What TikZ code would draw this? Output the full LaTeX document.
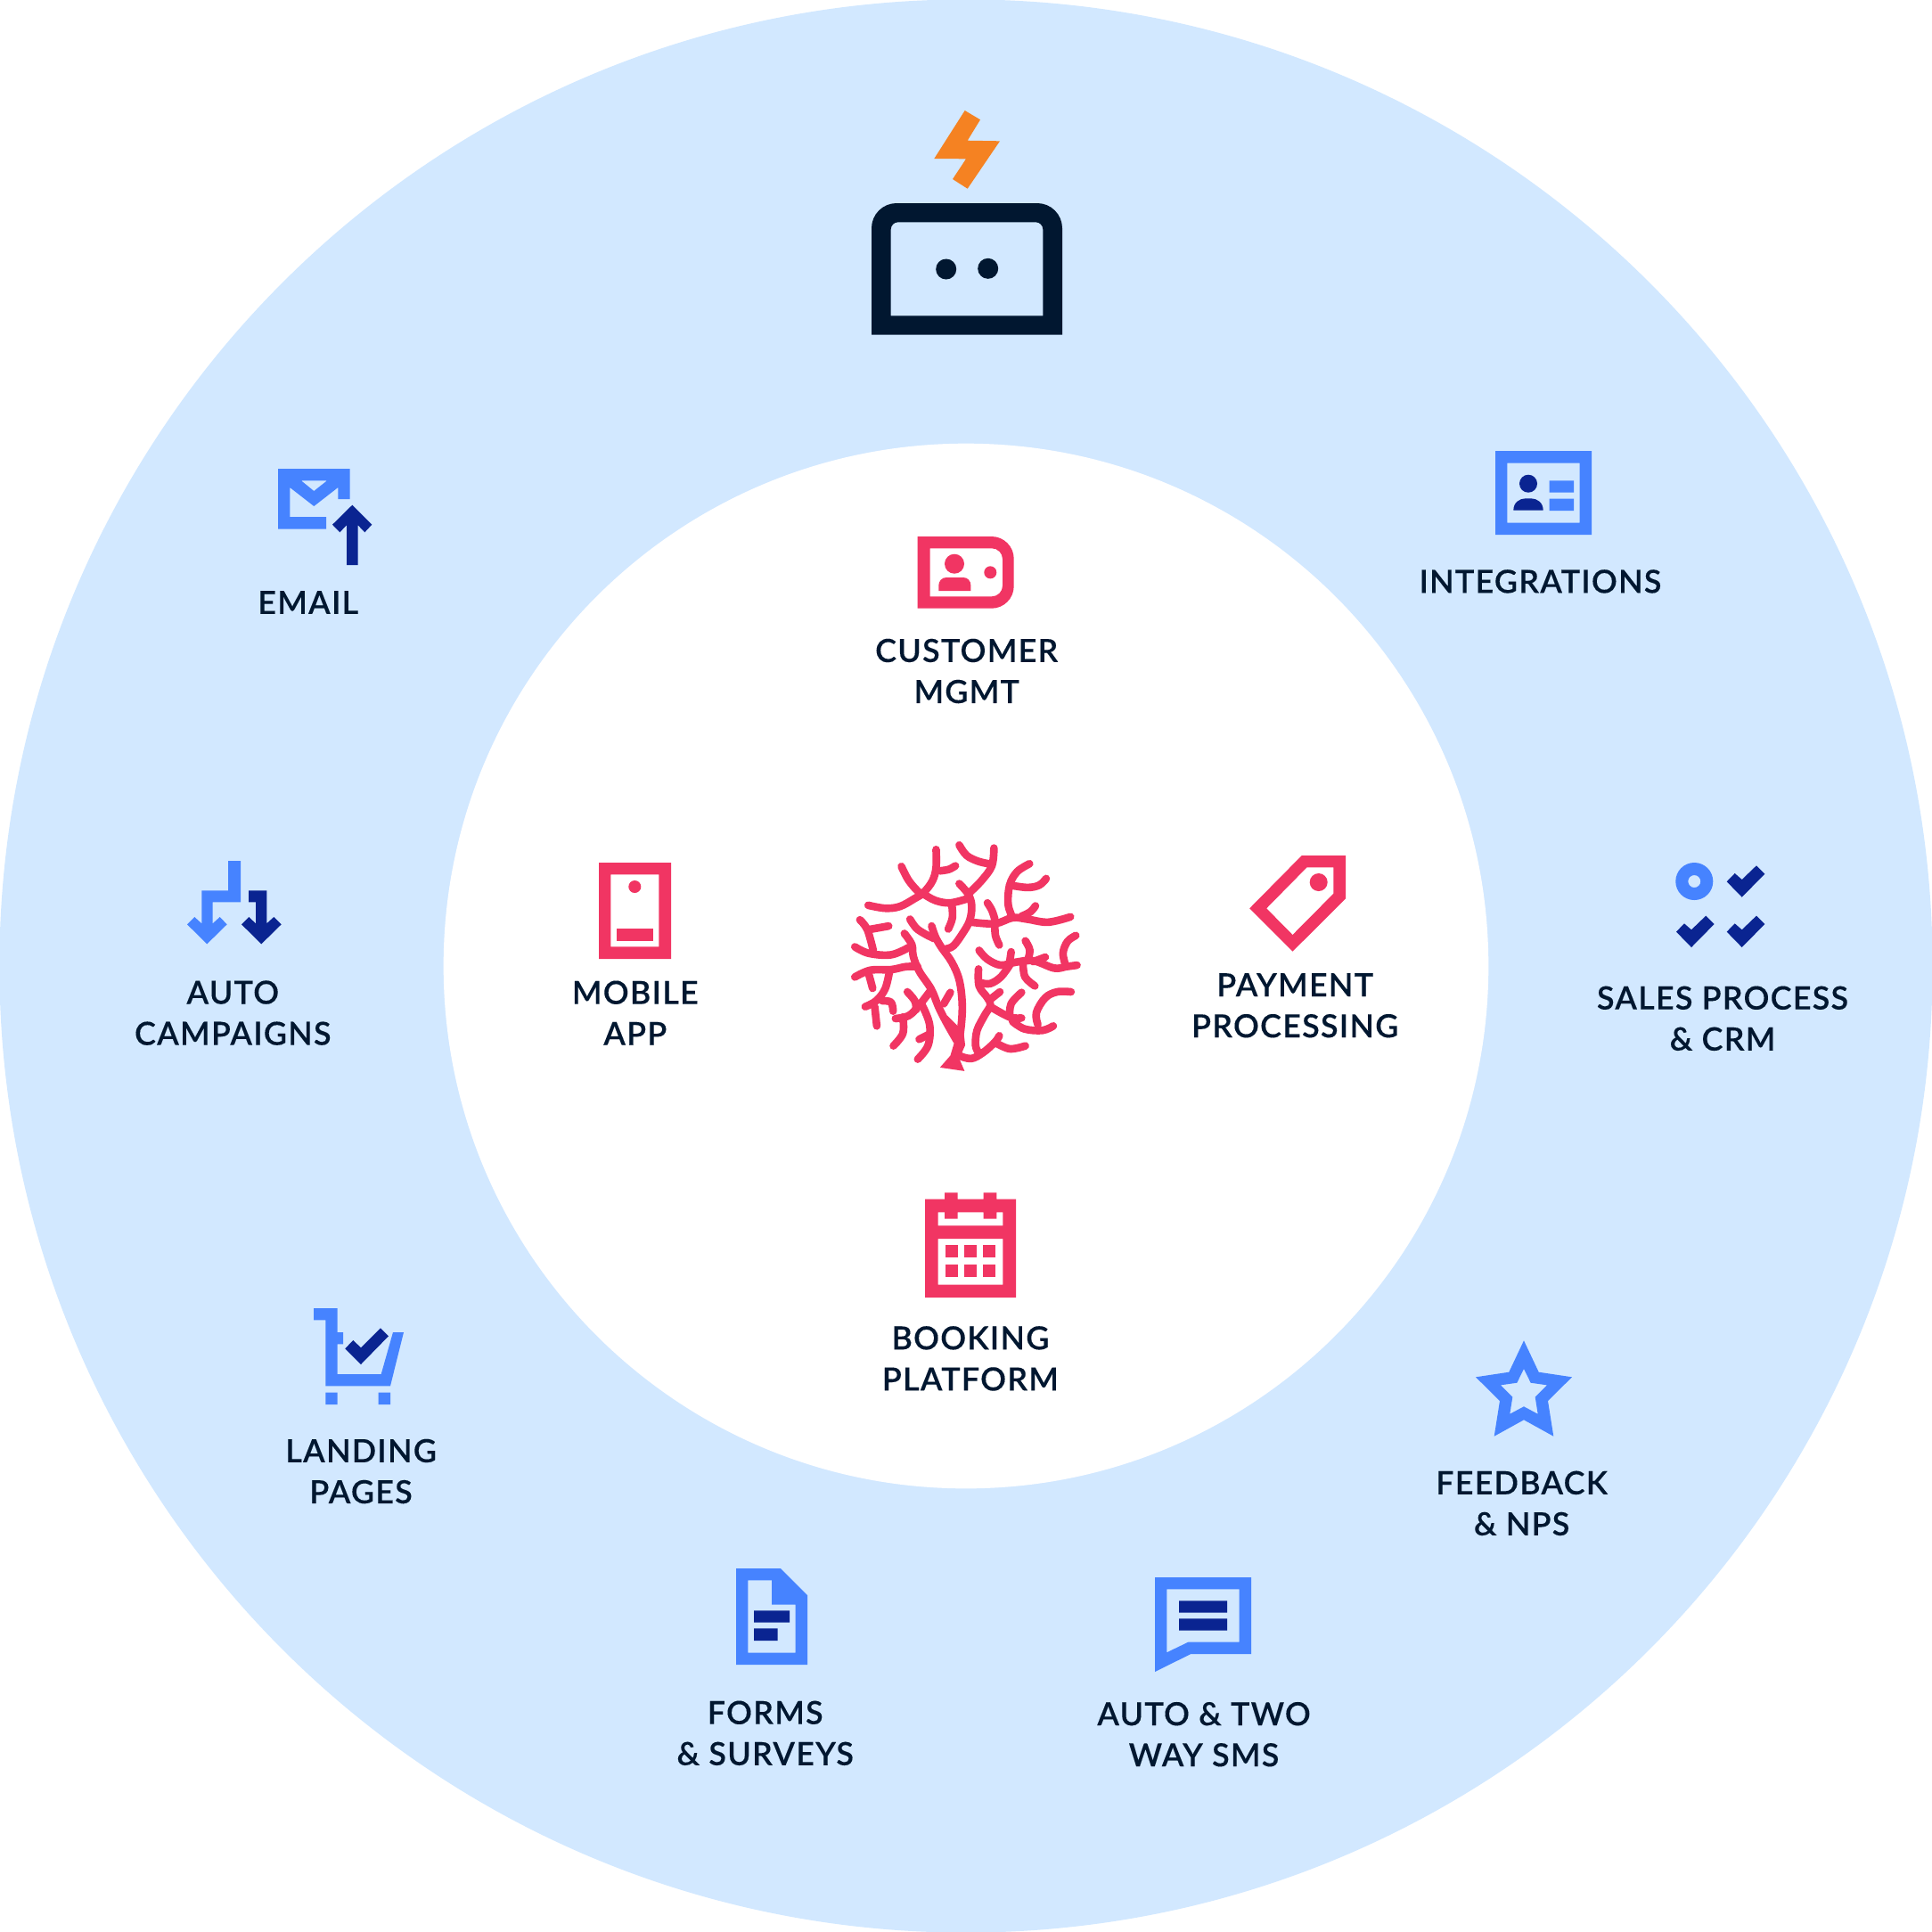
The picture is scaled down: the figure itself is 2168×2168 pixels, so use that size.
\documentclass[tikz,border=0pt]{standalone}
\usepackage{fontspec}
\setmainfont{Lato Semibold}[LetterSpace=3.5,FakeBold=0.2]
\definecolor{ringblue}{HTML}{D2E8FF}
\definecolor{iconblue}{HTML}{4683FF}
\definecolor{iconnavy}{HTML}{0A2491}
\definecolor{iconred}{HTML}{F13563}
\definecolor{boltorange}{HTML}{F58222}
\definecolor{inkdark}{HTML}{011730}
\tikzset{
  lbl/.style={font=\fontsize{10.2}{13.1}\selectfont,text=inkdark,align=center,inner sep=0pt},
  bluefill/.style={fill=iconblue,even odd rule},
  navyfill/.style={fill=iconnavy,even odd rule},
  redfill/.style={fill=iconred,even odd rule},
  inkfill/.style={fill=inkdark,even odd rule},
  coral/.style={draw=iconred,line width=2.45pt,line cap=round,line join=round}
}
\newcommand{\coralbranch}[1]{\draw[coral] plot[smooth,tension=0.6] coordinates {#1};}
\begin{document}
\begin{tikzpicture}[x=0.01cm,y=-0.01cm]
  \useasboundingbox (0,0) rectangle (2168,2168);
  \fill[ringblue] (1084,1084) circle[radius=10.84cm];
  \fill[white] (1084,1084) circle[radius=5.86cm];

  % top robot
  \fill[boltorange] (1082.7,124) -- (1100,134.3) -- (1085.7,157.7) -- (1122,158.3) -- (1085.7,211.7)
    -- (1069,201) -- (1084,178.3) -- (1048.3,178) -- cycle;
  \fill[inkfill] (978,375.7) -- (978,256) .. controls (978,240.6) and (990.6,228) .. (1006,228)
    -- (1164,228) .. controls (1179.4,228) and (1192,240.6) .. (1192,256) -- (1192,375.7) -- cycle
    (999.7,354.3) -- (999.7,257.3) .. controls (999.7,253) and (1003.3,249.3) .. (1007.7,249.3)
    -- (1162.3,249.3) .. controls (1166.7,249.3) and (1170.3,253) .. (1170.3,257.3) -- (1170.3,354.3) -- cycle;
  \fill[inkdark] (1061.7,302) circle[radius=0.115cm] (1108.7,301.3) circle[radius=0.115cm];

  % inner ring
  \fill[redfill] (1029.7,602) -- (1112.7,602) .. controls (1126.5,602) and (1137.7,613.2) .. (1137.7,627)
    -- (1137.7,657.7) .. controls (1137.7,671.5) and (1126.5,682.7) .. (1112.7,682.7) -- (1029.7,682.7) -- cycle
    (1043.5,615.3) -- (1113,615.3) .. controls (1119.6,615.3) and (1125,620.7) .. (1125,627.3)
    -- (1125,657.3) .. controls (1125,663.9) and (1119.6,669.3) .. (1113,669.3) -- (1043.5,669.3) -- cycle;
  \fill[iconred] (1071,632.7) circle[radius=0.11cm] (1111.3,642.3) circle[radius=0.07cm];
  \fill[iconred] (1053.3,663) -- (1053.3,657) .. controls (1053.3,652) and (1057,648) .. (1062,648)
    -- (1081,648) .. controls (1086,648) and (1089.4,652) .. (1089.4,657) -- (1089.4,663) -- cycle;

  \fill[redfill] (672.1,968) rectangle (753,1076) (685.3,981.3) rectangle (739.3,1062.3);
  \fill[iconred] (712.3,995) circle[radius=0.07cm];
  \fill[iconred] (692.2,1042) rectangle (733,1055.7);

  \fill[redfill] (1460.8,960) -- (1510,960) -- (1510,1008.3) -- (1450.5,1067.7) -- (1402.2,1019.3) -- cycle
    (1466.5,973.3) -- (1496.4,973.3) -- (1496.4,1002.7) -- (1450.5,1049) -- (1421.2,1019.3) -- cycle;
  \fill[iconred] (1479.7,990) circle[radius=0.1cm];

  \fill[redfill] (1038,1345.7) -- (1060,1345.7) -- (1060,1338.3) -- (1074.7,1338.3) -- (1074.7,1345.7)
    -- (1103.7,1345.7) -- (1103.7,1338.3) -- (1118.3,1338.3) -- (1118.3,1345.7) -- (1140,1345.7)
    -- (1140,1456) -- (1038,1456) -- cycle
    (1052.7,1360.3) -- (1060,1360.3) -- (1060,1367.7) -- (1074.7,1367.7) -- (1074.7,1360.3)
    -- (1103.7,1360.3) -- (1103.7,1367.7) -- (1118.3,1367.7) -- (1118.3,1360.3) -- (1125.3,1360.3)
    -- (1125.3,1375.3) -- (1052.7,1375.3) -- cycle
    (1052.7,1390) rectangle (1125.3,1441.7);
  \foreach \cx in {1061,1082,1103}
    \foreach \cy in {1397.3,1418.7}
      \fill[iconred] (\cx,\cy) rectangle ++(14,14);

  % coral
  \begin{scope}[shift={(920,920)},x=0.003333cm,y=-0.003333cm]
    \fill[iconred] (405,835) -- (488,847) -- (470,805) -- (490,760) -- (482,690) -- (465,695) -- (430,660)
      -- (420,690) -- (455,745) -- (440,795) -- cycle;
    \coralbranch{(462,790) (476,700) (480,620) (470,540) (445,480) (410,430) (390,395) (377,358)}
    \coralbranch{(304,335) (325,365) (355,385) (385,400)}
    \coralbranch{(425,435) (450,425) (480,385) (505,340) (512,290) (500,250) (470,215)}
    \coralbranch{(500,250) (545,205) (580,155) (587,95)}
    \coralbranch{(470,85) (495,120) (535,140) (580,150)}
    \coralbranch{(163,288) (220,298) (270,292) (320,265) (350,245) (380,205) (392,160) (392,100)}
    \coralbranch{(405,172) (435,167) (457,155)}
    \coralbranch{(275,157) (300,205) (335,245) (350,250)}
    \coralbranch{(350,250) (390,272) (440,280) (500,265)}
    \coralbranch{(445,285) (447,330) (433,368)}
    \coralbranch{(512,345) (590,350) (650,330) (700,335) (770,345) (845,327)}
    \coralbranch{(590,350) (592,390) (605,422)}
    \coralbranch{(590,335) (580,305) (565,280)}
    \coralbranch{(650,330) (635,285) (640,220) (665,175) (707,148)}
    \coralbranch{(640,220) (700,228) (740,220) (763,198)}
    \coralbranch{(680,325) (710,310) (727,290)}
    \coralbranch{(537,440) (565,470) (610,490) (660,480) (720,475) (790,500) (830,495) (867,490)}
    \coralbranch{(830,495) (820,450) (835,410) (863,390)}
    \coralbranch{(640,480) (645,445)}
    \coralbranch{(700,475) (708,440) (693,408)}
    \coralbranch{(720,478) (760,463)}
    \coralbranch{(685,485) (692,530) (725,560)}
    \coralbranch{(640,490) (610,530) (575,552) (545,550)}
    \coralbranch{(535,503) (537,560) (565,600) (575,625) (555,660) (530,710) (525,760) (535,785)}
    \coralbranch{(575,605) (607,580)}
    \coralbranch{(575,630) (640,665) (680,668)}
    \coralbranch{(640,665) (645,620) (680,582)}
    \coralbranch{(650,680) (690,705) (750,710) (787,695)}
    \coralbranch{(735,690) (730,650) (760,600) (800,580) (847,580)}
    \coralbranch{(470,795) (510,805) (550,785) (590,750) (605,728)}
    \coralbranch{(590,750) (640,772) (693,762)}
    \coralbranch{(462,745) (425,680) (400,630) (375,570) (335,510) (315,460) (310,420) (285,383)}
    \coralbranch{(118,428) (165,450) (240,455) (300,430)}
    \coralbranch{(135,337) (160,370) (180,440)}
    \coralbranch{(165,370) (232,358)}
    \coralbranch{(118,530) (170,507) (240,505) (290,495) (330,495)}
    \coralbranch{(165,520) (178,568)}
    \coralbranch{(235,510) (220,570) (190,610) (153,630)}
    \coralbranch{(210,610) (240,615) (247,645)}
    \coralbranch{(185,630) (192,695)}
    \coralbranch{(255,670) (300,660) (335,625) (370,580)}
    \coralbranch{(295,580) (320,610) (325,640)}
    \coralbranch{(280,665) (280,720) (248,762)}
    \coralbranch{(345,625) (370,690) (365,760) (330,807)}
    \coralbranch{(365,725) (335,740)}
    \coralbranch{(418,620) (440,582)}
  \end{scope}

  % outer ring, clockwise
  \fill[bluefill] (1678,506) rectangle (1786,600) (1691.3,519.7) rectangle (1772.7,586.7);
  \fill[iconnavy] (1715,542.7) circle[radius=0.1cm];
  \fill[iconnavy] (1698.3,572.7) .. controls (1698.3,564) and (1705,559.3) .. (1712,559.3)
    -- (1718,559.3) .. controls (1725,559.3) and (1731.7,564) .. (1731.7,572.7) -- cycle;
  \fill[iconblue] (1738.7,539.3) rectangle (1766,552.7) (1738.7,559.7) rectangle (1766,573);

  \fill[bluefill] (1901.3,989) circle[radius=0.21cm] (1901.3,989) circle[radius=0.07cm];
  \foreach \dx/\dy in {0/0,0/56.3,-56.7/56.3}
    \fill[iconnavy,shift={(\dx,\dy)}] (1937.7,989.3) -- (1946.7,980) -- (1954.7,987) -- (1971,971.3)
      -- (1980.3,980.7) -- (1954.7,1006.7) -- cycle;

  \fill[bluefill] (1710,1504.3) -- (1726.7,1539.7) -- (1764,1545.3) -- (1737,1572) -- (1743.3,1611.7)
    -- (1710,1593.3) -- (1676.7,1611.7) -- (1683,1572) -- (1656,1545.3) -- (1693.3,1539.7) -- cycle
    (1710,1536) -- (1717.7,1551.7) -- (1736,1554.3) -- (1722.7,1567.7) -- (1725.7,1586.7)
    -- (1710,1578.3) -- (1694.3,1586.7) -- (1697.3,1567.7) -- (1684,1554.3) -- (1702.3,1551.7) -- cycle;

  \fill[bluefill] (1296,1770) -- (1404,1770) -- (1404,1856) -- (1336.3,1856) -- (1296,1876) -- cycle
    (1309.3,1783.3) -- (1390.7,1783.3) -- (1390.7,1842.7) -- (1333.3,1842.7) -- (1309.3,1854.3) -- cycle;
  \fill[iconnavy] (1323,1796.3) rectangle (1377,1809.7) (1323,1816.3) rectangle (1377,1829.7);

  \fill[bluefill] (826,1760) -- (876,1760) -- (906,1790) -- (906,1868) -- (826,1868) -- cycle
    (839.3,1773.3) -- (866,1773.3) -- (866,1800.7) -- (892.7,1800.7) -- (892.7,1854.7) -- (839.3,1854.7) -- cycle;
  \fill[iconnavy] (846,1807.3) rectangle (886,1820.7) (846,1827.3) rectangle (872.7,1841);

  \fill[iconblue] (352,1468) -- (378.7,1468) -- (378.7,1495) -- (385,1495) -- (385,1508.3) -- (378.7,1508.3)
    -- (378.7,1542) -- (427.7,1542) -- (441,1495) -- (453,1495) -- (438,1555.3) -- (365.3,1555.3)
    -- (365.3,1481.3) -- (352,1481.3) -- cycle;
  \fill[iconblue] (365.3,1562.7) rectangle (378.7,1576) (424.7,1562.7) rectangle (438,1576);
  \fill[iconnavy] (387.3,1513.3) -- (396.3,1504) -- (405,1512.3) -- (427,1490.3) -- (436,1499.3) -- (405,1531) -- cycle;

  \fill[iconblue] (256,966) -- (270,966) -- (270,1012.3) -- (238.7,1012.3) -- (238.7,1036.3) -- (246.7,1029)
    -- (254.7,1037.3) -- (232.3,1059.3) -- (210,1037.3) -- (218.3,1029) -- (226.3,1036.3) -- (226.3,999.3)
    -- (256,999.3) -- cycle;
  \fill[iconnavy] (279,999.3) -- (299.3,999.3) -- (299.3,1036.3) -- (307.3,1029) -- (315.7,1037.3)
    -- (293.3,1059.3) -- (271,1037.3) -- (279.3,1029) -- (287,1036.3) -- (287,1012.3) -- (279,1012.3) -- cycle;

  \fill[bluefill] (312,526) -- (392.7,526) -- (392.7,560) -- (379.3,560) -- (379.3,547) -- (352.3,568)
    -- (325.3,547) -- (325.3,580) -- (366,580) -- (366,593.7) -- (312,593.7) -- cycle
    (338,539.3) -- (367,539.3) -- (352.3,551) -- cycle;
  \fill[iconnavy] (395.3,566.7) -- (417.3,588.7) -- (409.3,597.3) -- (401.7,589.3) -- (401.7,634)
    -- (389,634) -- (389,589.3) -- (381.3,597.3) -- (373,588.7) -- cycle;

  % labels
  \node[lbl] (customer) at (1084.7,753) {CUSTOMER\\MGMT};
  \node[lbl] (mobile) at (712.8,1136.6) {MOBILE\\APP};
  \node[lbl] (payment) at (1453.2,1128.3) {PAYMENT\\PROCESSING};
  \node[lbl] (booking) at (1088.9,1524.4) {BOOKING\\PLATFORM};
  \node[lbl] (integrations) at (1728.4,652.4) {INTEGRATIONS};
  \node[lbl] (sales) at (1933,1142.8) {SALES PROCESS\\\& CRM};
  \node[lbl] (feedback) at (1707.6,1686.9) {FEEDBACK\\\& NPS};
  \node[lbl] (sms) at (1351,1946.2) {AUTO \& TWO\\WAY SMS};
  \node[lbl] (forms) at (858.7,1944.8) {FORMS\\\& SURVEYS};
  \node[lbl] (landing) at (405.1,1651) {LANDING\\PAGES};
  \node[lbl] (campaigns) at (261.3,1136.6) {AUTO\\CAMPAIGNS};
  \node[lbl] (email) at (345.7,676) {EMAIL};
\end{tikzpicture}
\end{document}
